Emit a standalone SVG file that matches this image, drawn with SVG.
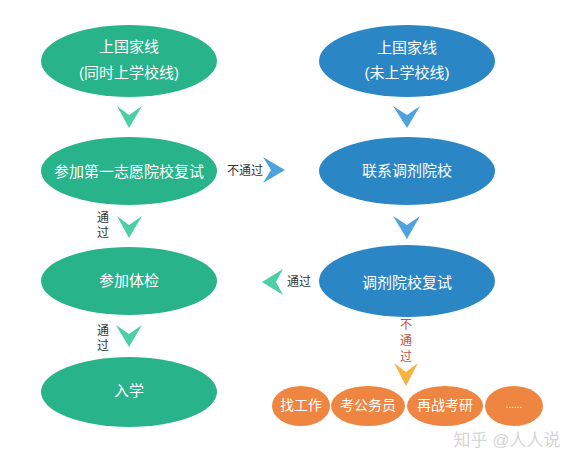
<svg xmlns="http://www.w3.org/2000/svg" width="577" height="466" viewBox="0 0 577 466">
<style>
text{font-family:"Liberation Sans","Noto Sans CJK SC",sans-serif;text-anchor:middle;dominant-baseline:central}
.g{fill:#28b38a}
.b{fill:#2b86c5}
.o{fill:#ee8641}
.w{fill:#ffffff;font-size:15px}
.ws{fill:#ffffff;font-size:14px}
.lab{fill:#333333;font-size:12px}
.red{fill:#c0504d;font-size:12px}
.cg{fill:#4ccfa5}
.cb{fill:#4ea3dc}
.co{fill:#f6b443}
</style>
<rect width="577" height="466" fill="#ffffff"/>
<g id="n1"><ellipse class="g" cx="129" cy="61" rx="88" ry="36"/><text class="w" x="129" y="46">上国家线</text><text class="w" x="129" y="72">(同时上学校线)</text></g>
<g id="n2"><ellipse class="g" cx="129" cy="171" rx="88" ry="34"/><text class="w" x="129" y="171">参加第一志愿院校复试</text></g>
<g id="n3"><ellipse class="g" cx="129" cy="281" rx="88" ry="34"/><text class="w" x="129" y="280">参加体检</text></g>
<g id="n4"><ellipse class="g" cx="129" cy="392" rx="88" ry="35"/><text class="w" x="129" y="390">入学</text></g>
<g id="m1"><ellipse class="b" cx="407" cy="61" rx="88" ry="36"/><text class="w" x="407" y="47">上国家线</text><text class="w" x="407" y="72">(未上学校线)</text></g>
<g id="m2"><ellipse class="b" cx="407" cy="171" rx="88" ry="34"/><text class="w" x="407" y="170">联系调剂院校</text></g>
<g id="m3"><ellipse class="b" cx="407" cy="281" rx="88" ry="36"/><text class="w" x="407" y="282">调剂院校复试</text></g>
<g id="o1"><ellipse class="o" cx="301" cy="406" rx="29" ry="20"/><text class="ws" x="301" y="405">找工作</text></g>
<g id="o2"><ellipse class="o" cx="368" cy="406" rx="37" ry="20"/><text class="ws" x="368" y="405">考公务员</text></g>
<g id="o3"><ellipse class="o" cx="445" cy="406" rx="38" ry="20"/><text class="ws" x="445" y="405">再战考研</text></g>
<g id="o4"><ellipse class="o" cx="514" cy="406" rx="29" ry="20"/><text class="ws" x="514" y="404" style="font-size:10px">......</text></g>
<g id="connectors">
<polygon class="cg" points="117,106 129,115 142,106 129,128"/>
<polygon class="cg" points="117,216 129,225 142,216 129,238"/>
<polygon class="cg" points="116,325 129,334 142,325 129,347"/>
<polygon class="cb" points="393,106 407,115 420,106 407,128"/>
<polygon class="cb" points="393,216 407,225 420,216 407,239"/>
<polygon class="cb" points="263,157 285,170 263,183 271,170"/>
<polygon class="cg" points="262,282 283,269 276,282 283,295"/>
<polygon class="co" points="394,363 406,372 418,363 406,386"/>
<text class="lab" x="245" y="171">不通过</text>
<text class="lab" x="103" y="218">通</text><text class="lab" x="103" y="233">过</text>
<text class="lab" x="103" y="331">通</text><text class="lab" x="103" y="346">过</text>
<text class="lab" x="299" y="282">通过</text>
<text class="red" x="406" y="325">不</text><text class="red" x="406" y="341">通</text><text class="red" x="406" y="357">过</text>
</g>
<text x="507" y="440" style="font-size:17px;fill:#d5d5d5">知乎 @人人说</text>
</svg>
